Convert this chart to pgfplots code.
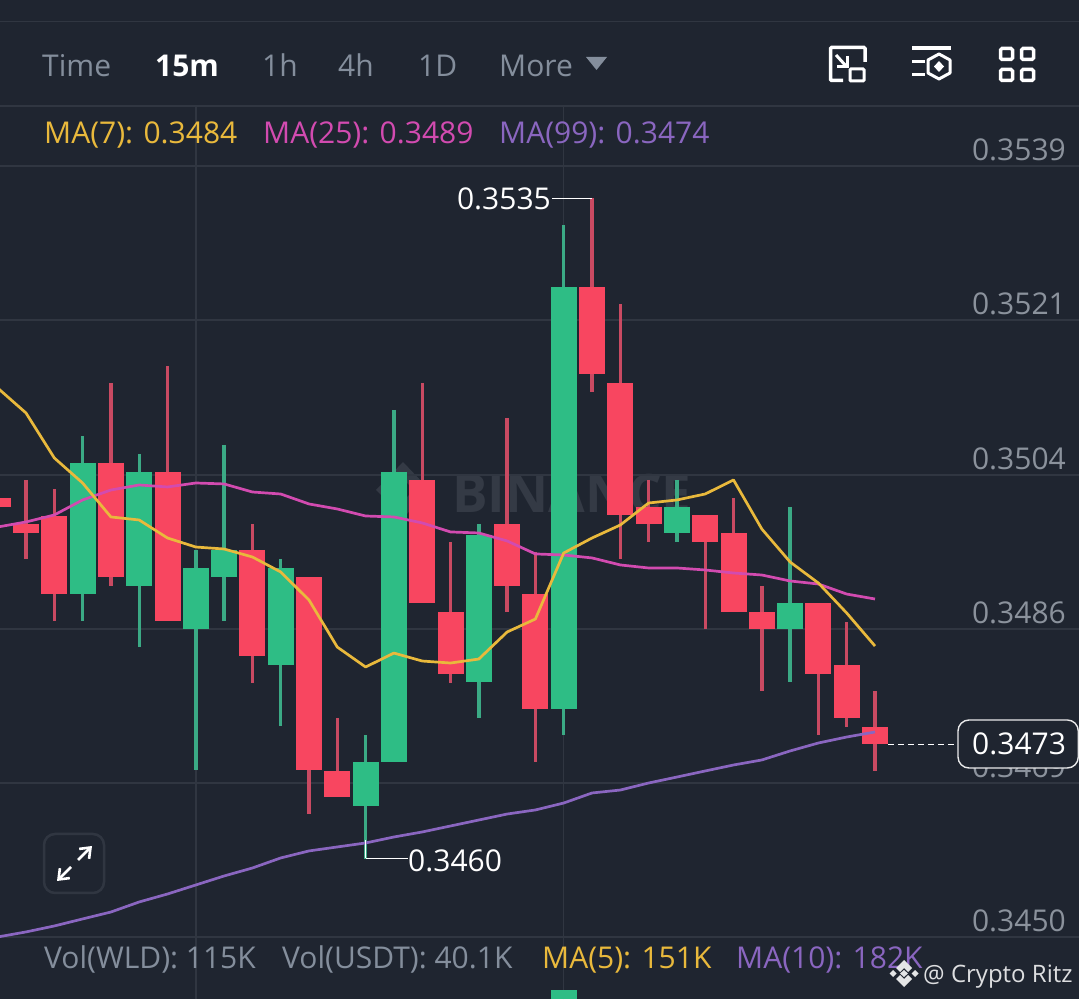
\documentclass[border=0pt]{standalone}
\usepackage{pgfplots}
\pgfplotsset{compat=1.18}
\usepackage{fontspec}
\setmainfont{Open Sans}
\usetikzlibrary{arrows.meta}
\definecolor{bg}{HTML}{1F2530}
\definecolor{gridc}{HTML}{303641}
\definecolor{up}{HTML}{2EBD85}
\definecolor{down}{HTML}{F84660}
\definecolor{upw}{HTML}{3BAA85}
\definecolor{downw}{HTML}{C94A62}
\definecolor{ma7}{HTML}{E9B93C}
\definecolor{ma25}{HTML}{D24BB0}
\definecolor{ma99}{HTML}{8A66C0}
\definecolor{txt}{HTML}{848E9C}
\definecolor{axt}{HTML}{8B929C}
\definecolor{wm}{HTML}{343A45}
\newcommand{\fs}[1]{\fontsize{#1}{#1}\selectfont}
\begin{document}
\begin{tikzpicture}
\useasboundingbox (0,0) rectangle (1079pt,999pt);
\fill[bg] (0,0) rectangle (1079pt,999pt);
\begin{scope}[x=1pt,y=-1pt,shift={(0pt,999pt)}]
  % watermark
  \fill[wm] (403,462) -- (424,484) -- (416,492) -- (403,479) -- (390,492) -- (382,484) -- cycle;
  \fill[wm] (403,518) -- (382,496) -- (390,488) -- (403,501) -- (416,488) -- (424,496) -- cycle;
  \fill[wm] (376,490) -- (384,482) -- (392,490) -- (384,498) -- cycle;
  \node[anchor=base west,inner sep=0,text=wm,font=\fs{53}\bfseries] at (452,513) {BINANCE};
\end{scope}
\begin{axis}[
  at={(0pt,0pt)},anchor=south west,
  scale only axis,width=1079pt,height=999pt,
  xmin=0.0813,xmax=38.208,
  ymin=0.344285,ymax=0.355816,
  axis line style={draw=none},
  major tick length=0pt,
  unbounded coords=jump,
  xtick={7,20},xticklabels={},
  ytick={0.3539,0.352122,0.350333,0.348555,0.346778,0.345000},
  yticklabels={0.3539,0.3521,0.3504,0.3486,0.3469,0.3450},
  yticklabel pos=right,
  yticklabel style={anchor=base east,inner sep=0pt,xshift=-13pt,yshift=5.5pt,text=axt,font=\fs{30}},
  grid=major,
  grid style={gridc,line width=1.4pt},
]
% wicks, falling candles
\addplot[downw,line width=3.4pt,forget plot] coordinates {
(1,0.350276)(1,0.349364)(1,nan)
(2,0.350172)(2,0.348648)(2,nan)
(4,0.351395)(4,0.349052)(4,nan)
(6,0.351591)(6,0.348648)(6,nan)
(9,0.349768)(9,0.347932)(9,nan)
(11,0.349155)(11,0.346420)(11,nan)
(12,0.347528)(12,0.346617)(12,nan)
(15,0.351395)(15,0.348855)(15,nan)
(16,0.349560)(16,0.347932)(16,nan)
(18,0.350991)(18,0.348751)(18,nan)
(19,0.349445)(19,0.347021)(19,nan)
(21,0.353530)(21,0.351291)(21,nan)
(22,0.352307)(22,0.349364)(22,nan)
(23,0.350276)(23,0.349560)(23,nan)
(25,0.349872)(25,0.348555)(25,nan)
(26,0.350068)(26,0.348751)(26,nan)
(27,0.349052)(27,0.347840)(27,nan)
(29,0.348855)(29,0.347332)(29,nan)
(30,0.348636)(30,0.347424)(30,nan)
(31,0.347840)(31,0.346917)
};
% wicks, rising candles
\addplot[upw,line width=3.4pt,forget plot] coordinates {
(3,0.350783)(3,0.348648)(3,nan)
(5,0.350576)(5,0.348347)(5,nan)
(7,0.349468)(7,0.346928)(7,nan)
(8,0.350680)(8,0.348648)(8,nan)
(10,0.349364)(10,0.347436)(10,nan)
(13,0.347332)(13,0.345901)(13,nan)
(14,0.351084)(14,0.347021)(14,nan)
(17,0.349768)(17,0.347528)(17,nan)
(20,0.353218)(20,0.347332)(20,nan)
(24,0.350276)(24,0.349560)(24,nan)
(28,0.349964)(28,0.347944)
};
% bodies, falling candles
\addplot[down,line width=26pt,forget plot] coordinates {
(0,0.350068)(0,0.349964)(0,nan)
(1,0.349768)(1,0.349664)(1,nan)
(2,0.349860)(2,0.348959)(2,nan)
(4,0.350472)(4,0.349155)(4,nan)
(6,0.350368)(6,0.348648)(6,nan)
(9,0.349468)(9,0.348244)(9,nan)
(11,0.349155)(11,0.346928)(11,nan)
(12,0.346917)(12,0.346617)(12,nan)
(15,0.350276)(15,0.348855)(15,nan)
(16,0.348751)(16,0.348036)(16,nan)
(18,0.349768)(18,0.349052)(18,nan)
(19,0.348959)(19,0.347632)(19,nan)
(21,0.352503)(21,0.351499)(21,nan)
(22,0.351395)(22,0.349872)(22,nan)
(23,0.349964)(23,0.349768)(23,nan)
(25,0.349872)(25,0.349560)(25,nan)
(26,0.349664)(26,0.348751)(26,nan)
(27,0.348751)(27,0.348555)(27,nan)
(29,0.348855)(29,0.348036)(29,nan)
(30,0.348140)(30,0.347528)(30,nan)
(31,0.347424)(31,0.347228)
};
% bodies, rising candles
\addplot[up,line width=26pt,forget plot] coordinates {
(3,0.350472)(3,0.348959)(3,nan)
(5,0.350368)(5,0.349052)(5,nan)
(7,0.349260)(7,0.348555)(7,nan)
(8,0.349468)(8,0.349155)(8,nan)
(10,0.349260)(10,0.348140)(10,nan)
(13,0.347021)(13,0.346513)(13,nan)
(14,0.350368)(14,0.347021)(14,nan)
(17,0.349641)(17,0.347944)(17,nan)
(20,0.352503)(20,0.347632)(20,nan)
(24,0.349964)(24,0.349664)(24,nan)
(28,0.348855)(28,0.348555)
};
% volume pane: the top of one bar shows at the foot
\addplot[up,line width=26pt,forget plot] coordinates {(20,0.344388)(20,0.344285)};
% MA(99)
\addplot[ma99,line width=2.7pt,line join=round] coordinates {
(0,0.345001)(1,0.345059)(2,0.345128)(3,0.345209)(4,0.345289)(5,0.345405)(6,0.345497)(7,0.345601)
(8,0.345705)(9,0.345797)(10,0.345913)(11,0.345994)(12,0.346040)(13,0.346086)(14,0.346155)(15,0.346213)
(16,0.346282)(17,0.346351)(18,0.346420)(19,0.346467)(20,0.346547)(21,0.346663)(22,0.346697)(23,0.346778)
(24,0.346847)(25,0.346917)(26,0.346986)(27,0.347044)(28,0.347148)(29,0.347240)(30,0.347309)(31,0.347367)
};
% MA(25)
\addplot[ma25,line width=2.7pt,line join=round] coordinates {
(0,0.349733)(1,0.349791)(2,0.349872)(3,0.350045)(4,0.350160)(5,0.350218)(6,0.350195)(7,0.350241)
(8,0.350230)(9,0.350137)(10,0.350114)(11,0.349999)(12,0.349941)(13,0.349860)(14,0.349849)(15,0.349780)
(16,0.349676)(17,0.349664)(18,0.349572)(19,0.349422)(20,0.349410)(21,0.349376)(22,0.349295)(23,0.349260)
(24,0.349260)(25,0.349237)(26,0.349202)(27,0.349179)(28,0.349110)(29,0.349075)(30,0.348959)(31,0.348902)
};
% MA(7)
\addplot[ma7,line width=2.7pt,line join=round] coordinates {
(0,0.351337)(1,0.351049)(2,0.350530)(3,0.350241)(4,0.349849)(5,0.349814)(6,0.349606)(7,0.349502)
(8,0.349479)(9,0.349387)(10,0.349214)(11,0.348890)(12,0.348347)(13,0.348117)(14,0.348278)(15,0.348186)
(16,0.348163)(17,0.348209)(18,0.348521)(19,0.348671)(20,0.349433)(21,0.349606)(22,0.349756)(23,0.350010)
(24,0.350045)(25,0.350114)(26,0.350276)(27,0.349710)(28,0.349329)(29,0.349086)(30,0.348740)(31,0.348359)
};
\end{axis}
\begin{scope}[x=1pt,y=-1pt,shift={(0pt,999pt)}]
  % header
  \fill[bg] (0,0) rectangle (1079,106);
  \draw[gridc,line width=1.4pt] (0,21.5) -- (1079,21.5);
  \draw[gridc,line width=2pt] (0,106.5) -- (1079,106.5);
  \tikzset{t/.style={anchor=base west,inner sep=0pt,font=\fs{30}}}
  \node[t,text=txt] at (42,77) {Time};
  \node[t,text=white,font=\fs{30}\bfseries] at (155,77) {15m};
  \node[t,text=txt] at (262,77) {1h};
  \node[t,text=txt] at (338,77) {4h};
  \node[t,text=txt] at (418,77) {1D};
  \node[t,text=txt] at (499,77) {More};
  \fill[txt] (586,57) -- (607,57) -- (596.5,70) -- cycle;
  % icons
  \draw[white,line width=3.5pt,rounded corners=1pt] (865,62) -- (865,47.5) -- (830.5,47.5) -- (830.5,80.5) -- (843,80.5);
  \draw[white,line width=3pt,rounded corners=1pt] (850,69) rectangle (864,81);
  \draw[white,line width=3pt] (836,55) -- (846,66);
  \draw[white,line width=3pt] (847,56) -- (847,67) -- (837,67);
  \draw[white,line width=3.5pt] (912,48) -- (951,48);
  \draw[white,line width=3pt] (912,62) -- (925,62) (912,75) -- (925,75);
  \draw[white,line width=3pt,line join=round] (939,54) -- (950,60) -- (950,73) -- (939,79) -- (928,73) -- (928,60) -- cycle;
  \fill[white] (939,61) -- (944,66.5) -- (939,72) -- (934,66.5) -- cycle;
  \foreach \a/\b in {999/47,1020/47,999/68,1020/68}
    \draw[white,line width=3.5pt,rounded corners=1.5pt] (\a+1.5,\b+1.5) rectangle (\a+13.5,\b+12.5);
  % MA labels
  \node[t,text=ma7] at (44,144) {MA(7): 0.3484};
  \node[t,text=ma25] at (263,144) {MA(25): 0.3489};
  \node[t,text=ma99] at (499,144) {MA(99): 0.3474};
  % extremes
  \draw[white,line width=1.3pt] (552,198.5) -- (592,198.5);
  \node[anchor=base east,inner sep=0,text=white,font=\fs{30}] at (551,210) {0.3535};
  \draw[white,line width=1.3pt] (365.5,858.5) -- (408,858.5) ;
  \draw[white,line width=1.3pt] (365.5,840) -- (365.5,858.5) ;
  \node[t,text=white] at (408,871) {0.3460};
  % last price
  \draw[white,line width=1.5pt,dash pattern=on 6pt off 4pt] (888,744.5) -- (958,744.5);
  \draw[white!90!bg,line width=1.4pt,fill=bg,rounded corners=11pt] (958,720) rectangle (1078.3,768);
  \node[t,text=white] at (972,755) {0.3473};
  % expand button
  \draw[gridc,line width=2.5pt,rounded corners=11pt] (44,834) rectangle (104,893);
  \draw[white,line width=2.6pt,-{Straight Barb[length=9pt,width=14pt]}] (78,860) -- (92,846);
  \draw[white,line width=2.6pt,-{Straight Barb[length=9pt,width=14pt]}] (71,867) -- (57,881);
  % footer
  \node[t,text=txt] at (44,968) {Vol(WLD): 115K};
  \node[t,text=txt] at (282,968) {Vol(USDT): 40.1K};
  \node[t,text=ma7] at (542,968) {MA(5): 151K};
  \node[t,text=ma99] at (736,968) {MA(10): 182K};
  % logo and credit
  \fill[white!88!bg] (904,960) -- (912,968) -- (908,972) -- (904,968) -- (900,972) -- (896,968) -- cycle;
  \fill[white!88!bg] (904,987) -- (912,979) -- (908,975) -- (904,979) -- (900,975) -- (896,979) -- cycle;
  \fill[white!88!bg] (904,970) -- (908,973.5) -- (904,977) -- (900,973.5) -- cycle;
  \fill[white!88!bg] (893,970) -- (896.5,973.5) -- (893,977) -- (889.5,973.5) -- cycle;
  \fill[white!88!bg] (915,970) -- (918.5,973.5) -- (915,977) -- (911.5,973.5) -- cycle;
  \node[anchor=base west,inner sep=0,text=white!85!bg,font=\fs{24}] at (923,982) {@ Crypto Ritz};
\end{scope}
\end{tikzpicture}
\end{document}
